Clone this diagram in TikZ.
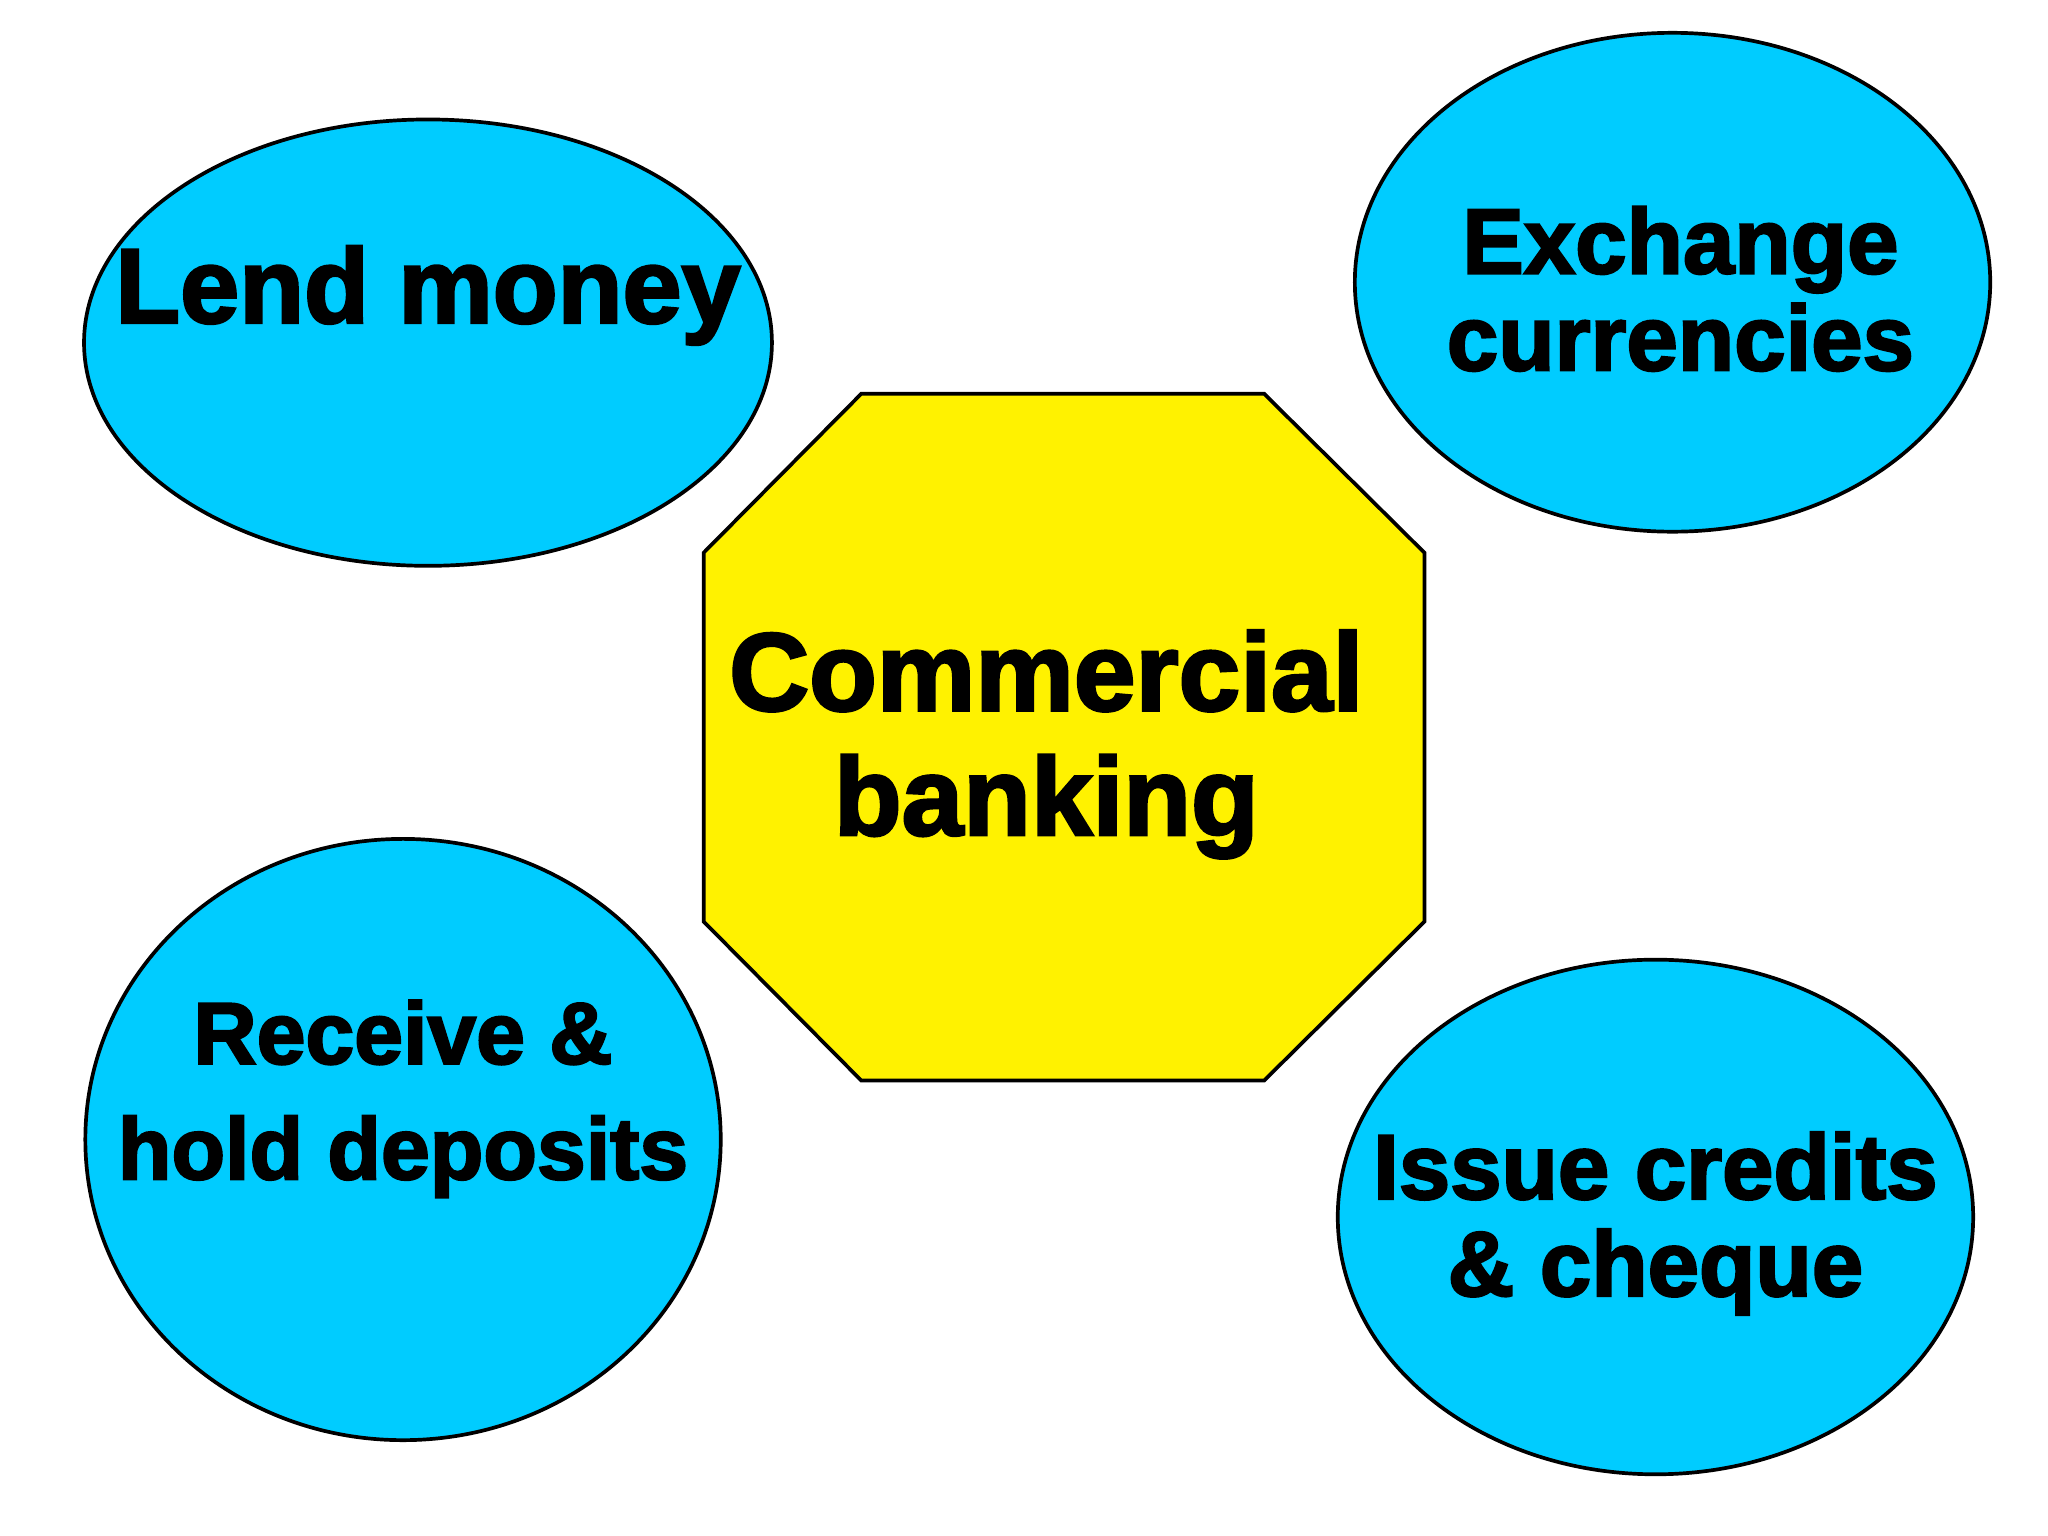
\documentclass[tikz,border=0pt]{standalone}
\usepackage{fontspec}
\setmainfont{Liberation Sans}[BoldFeatures={FakeBold=2.5}]
\tikzset{bub/.style={draw=black,fill=cyan!80!blue!60!cyan,fill={rgb,255:red,0;green,204;blue,255},line width=0.8pt},
lab/.style={font=\bfseries,align=center,text=black}}
\begin{document}
\begin{tikzpicture}[x=0.01cm,y=-0.01cm]
\useasboundingbox (0,0) rectangle (1560,1170);
\fill[white] (0,0) rectangle (1560,1170);
\draw[bub] (326,261) ellipse [x radius=262,y radius=170];
\draw[bub] (1274,215) ellipse [x radius=242,y radius=190];
\draw[bub] (307,868) ellipse [x radius=242,y radius=229];
\draw[bub] (1261,927) ellipse [x radius=242,y radius=196];
\draw[fill=yellow,line width=0.8pt] (656,300)--(963,300)--(1085,421)--(1085,702)--(963,823)--(656,823)--(536,702)--(536,421)--cycle;
\node[lab,font=\fontsize{23}{28}\bfseries] (lend) at (326,225) {Lend\ money};
\node[lab,font=\fontsize{20}{21}\bfseries] (exch) at (1280,220) {Exchange\\ currencies};
\node[lab,font=\fontsize{24}{27}\bfseries] (comm) at (797,567) {Commercial\\ banking};
\node[lab,font=\fontsize{19}{25}\bfseries] (recv) at (307,837) {Receive \&\\ hold deposits};
\node[lab,font=\fontsize{20}{21}\bfseries] (issue) at (1261,932) {Issue credits\\ \& cheque};
\end{tikzpicture}
\end{document}
